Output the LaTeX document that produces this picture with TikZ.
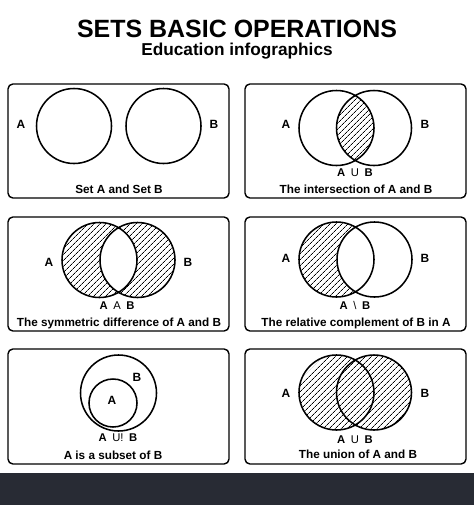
\documentclass[tikz,border=0pt]{standalone}
\usepackage{fontspec}
\setmainfont{Liberation Sans}
\usetikzlibrary{patterns.meta}
\definecolor{footerbg}{RGB}{40,43,52}
\tikzset{
	panel/.style={line width=2pt, rounded corners=7pt},
	setline/.style={line width=2.2pt},
	hatch/.style={pattern={Lines[angle=45, distance=6.5pt, line width=1.3pt]}},
	setname/.style={font=\bfseries\fontsize{17}{17}\selectfont, inner sep=0pt},
	caption/.style={font=\bfseries\fontsize{16.7}{17}\selectfont, inner sep=0pt, anchor=base},
	relation/.style={font=\bfseries\fontsize{16}{16}\selectfont, inner sep=0pt, anchor=base}
}
\newcommand{\opsym}[1]{\hspace{.5em}{\mdseries #1}\hspace{.5em}}
\begin{document}
\begin{tikzpicture}[x=0.5mm, y=-0.5mm]
		\useasboundingbox (0, 0) rectangle (474, 505);
		\fill[footerbg] (0, 473) rectangle (474, 505);

		\node[font=\bfseries\fontsize{35.5}{36}\selectfont, inner sep=0pt, anchor=base] (title) at (237, 37) {SETS BASIC OPERATIONS};
		\node[font=\bfseries\fontsize{24.5}{25}\selectfont, inner sep=0pt, anchor=base] (subtitle) at (237, 55) {Education infographics};

		\draw[panel] (8, 84) rectangle (229, 198);
		\draw[panel] (245, 84) rectangle (466, 198);
		\draw[panel] (8, 217) rectangle (229, 331);
		\draw[panel] (245, 217) rectangle (466, 331);
		\draw[panel] (8, 349) rectangle (229, 464);
		\draw[panel] (245, 349) rectangle (466, 464);

		% Set A and Set B
		\draw[setline] (74, 126) circle (37.5) (163.5, 126) circle (37.5);
		\node[setname] (a1) at (21, 124) {A};
		\node[setname] (b1) at (214, 124) {B};
		\node[caption] (cap1) at (119, 193) {Set A and Set B};

		% intersection
		\begin{scope}
			\clip (336.5, 128) circle (37.5);
			\fill[hatch] (374, 128) circle (37.5);
		\end{scope}
		\draw[setline] (336.5, 128) circle (37.5) (374, 128) circle (37.5);
		\node[setname] (a2) at (286, 124) {A};
		\node[setname] (b2) at (425, 124) {B};
		\node[relation] (rel2) at (355, 176) {A\opsym{U}B};
		\node[caption] (cap2) at (356, 193) {The intersection of A and B};

		% symmetric difference
		\fill[hatch, even odd rule] (99.5, 260) circle (37.5) (137.5, 260) circle (37.5);
		\draw[setline] (99.5, 260) circle (37.5) (137.5, 260) circle (37.5);
		\node[setname] (a3) at (49, 262) {A};
		\node[setname] (b3) at (188, 262) {B};
		\node[relation] (rel3) at (117, 309) {A\opsym{A}B};
		\node[caption] (cap3) at (119, 326) {The symmetric difference of A and B};

		% relative complement
		\begin{scope}
			\clip (336.5, 259.5) circle (37.5);
			\fill[hatch, even odd rule] (336.5, 259.5) circle (37.5) (374.5, 259.5) circle (37.5);
		\end{scope}
		\draw[setline] (336.5, 259.5) circle (37.5) (374.5, 259.5) circle (37.5);
		\node[setname] (a4) at (286, 258) {A};
		\node[setname] (b4) at (425, 258) {B};
		\node[relation] (rel4) at (355, 309) {A\opsym{\textbackslash}B};
		\node[caption] (cap4) at (356, 326) {The relative complement of B in A};

		% subset
		\draw[setline] (118.5, 393) circle (38) (113, 403) circle (24);
		\node[setname] (a5) at (112, 400) {A};
		\node[setname] (b5) at (137, 377) {B};
		\node[relation] (rel5) at (118, 441) {A\opsym{U!}B};
		\node[caption] (cap5) at (113, 459) {A is a subset of B};

		% union
		\fill[hatch] (336.5, 392.5) circle (37.5) (374, 392.5) circle (37.5);
		\draw[setline] (336.5, 392.5) circle (37.5) (374, 392.5) circle (37.5);
		\node[setname] (a6) at (286, 393) {A};
		\node[setname] (b6) at (425, 393) {B};
		\node[relation] (rel6) at (355, 443) {A\opsym{U}B};
		\node[caption] (cap6) at (358, 458) {The union of A and B};
	\end{tikzpicture}
\end{document}
